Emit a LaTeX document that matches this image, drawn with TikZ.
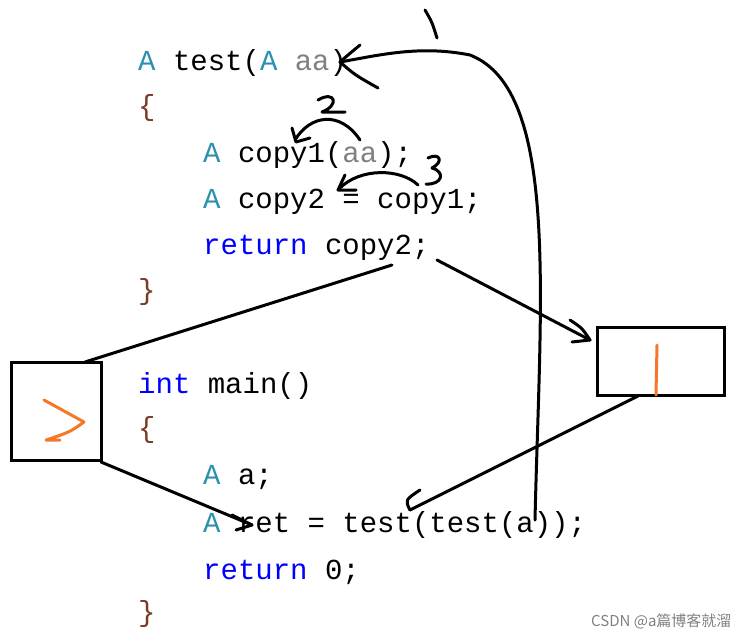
\documentclass[tikz,border=0pt]{standalone}
\usepackage{fontspec}
\setmonofont{Liberation Mono}
\newfontfamily\cjk{Noto Sans CJK SC}
\definecolor{ty}{RGB}{43,145,175}
\definecolor{kw}{RGB}{0,0,255}
\definecolor{br}{RGB}{120,60,40}
\definecolor{gr}{RGB}{128,128,128}
\definecolor{og}{RGB}{245,120,40}
\begin{document}
\begin{tikzpicture}[x=1pt,y=-1pt,
  code/.style={anchor=west,inner sep=0pt,font=\fontsize{29}{29}\ttfamily},
  ink/.style={line width=3pt,line cap=round,line join=round},
  orng/.style={ink,og,line width=3pt},
  box/.style={draw,line width=3pt,inner sep=0pt}]
\useasboundingbox (0,0) rectangle (747,640);
\node[code] (l1) at (138,63) {\textcolor{ty}{A} test(\textcolor{ty}{A} \textcolor{gr}{aa})};
\node[code] (l2) at (138,108) {\textcolor{br}{\{}};
\node[code] (l3) at (203,155) {\textcolor{ty}{A} copy1(\textcolor{gr}{aa});};
\node[code] (l4) at (203,202) {\textcolor{ty}{A} copy2 = copy1;};
\node[code] (l5) at (203,248) {\textcolor{kw}{return} copy2;};
\node[code] (l6) at (138,292) {\textcolor{br}{\}}};
\node[code] (l7) at (138,386) {\textcolor{kw}{int} main()};
\node[code] (l8) at (138,430) {\textcolor{br}{\{}};
\node[code] (l9) at (203,478) {\textcolor{ty}{A} a;};
\node[code] (l10) at (203,525) {\textcolor{ty}{A} ret = test(test(a));};
\node[code] (l11) at (203,572) {\textcolor{kw}{return} 0;};
\node[code] (l12) at (138,614) {\textcolor{br}{\}}};
\node[box,minimum width=90pt,minimum height=98pt] (bl) at (56,411) {};
\node[box,minimum width=127pt,minimum height=68pt] (br) at (661,361) {};
\node[anchor=east,text=gray,font=\cjk\fontsize{15}{15}\selectfont] (wm) at (735,621) {CSDN @a篇博客就溜};
% orange marks
\draw[orng] (44,400) -- (84,422) .. controls (70,432) .. (46,440) -- (60,440);
\draw[orng] (657,345) -- (656,395);
% strokes
\draw[ink] (85,362) -- (392,265);
\draw[ink] (101,462) -- (252,525);
\draw[ink] (232,515) -- (252,525) -- (236,530);
\draw[ink] (437,260) -- (590,340);
\draw[ink] (570,320) .. controls (582,328) .. (590,340) -- (572,342);
\draw[ink] (638,396) -- (410,510);
\draw[ink] (420,490) .. controls (405,500) .. (410,510);
\draw[ink] (535,520) .. controls (540,300) and (560,90) .. (470,55) .. controls (420,45) and (380,55) .. (340,62);
\draw[ink] (360,45) .. controls (348,55) .. (340,62) .. controls (355,75) .. (378,88);
\draw[ink] (425,10) .. controls (432,22) .. (437,38);
% 2 and arrow
\draw[ink] (318,100) .. controls (335,90) and (340,105) .. (322,112) -- (345,112);
\draw[ink] (295,140) .. controls (310,115) and (340,110) .. (360,140);
\draw[ink] (292,128) -- (296,142) -- (310,138);
% 3 and arrow
\draw[ink] (428,158) .. controls (440,152) and (444,162) .. (432,168) .. controls (446,172) and (442,185) .. (426,184);
\draw[ink] (418,185) .. controls (400,168) and (360,168) .. (340,188);
\draw[ink] (345,175) -- (338,190) -- (356,190);
\end{tikzpicture}
\end{document}
